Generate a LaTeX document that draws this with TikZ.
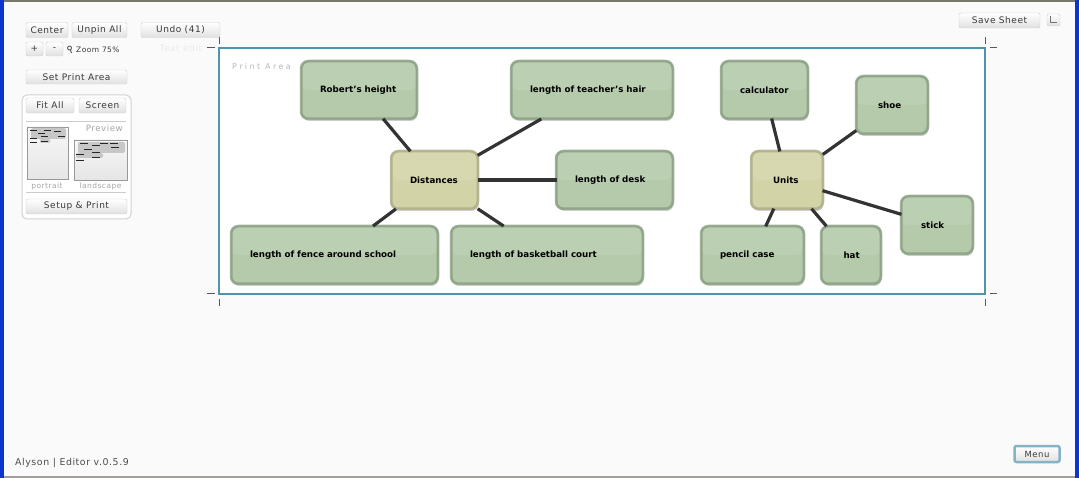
\documentclass[tikz,border=0pt]{standalone}
\usepackage{fontspec}
\usepackage{xcolor}
\usetikzlibrary{shadows}
\setmainfont{DejaVu Sans}
\newfontfamily\uifont[LetterSpace=6]{DejaVu Sans}
\newfontfamily\wideui[LetterSpace=30]{DejaVu Sans}
\definecolor{paper}{HTML}{FAFAFA}
\definecolor{winblue}{HTML}{0A35D0}
\definecolor{wingray}{HTML}{77776C}
\definecolor{printline}{HTML}{4F93AE}
\definecolor{greenfill}{HTML}{B4CAAA}
\definecolor{greenedge}{HTML}{8FA68A}
\definecolor{yellowfill}{HTML}{D3D3A8}
\definecolor{yellowedge}{HTML}{B2B28E}
\definecolor{linkgray}{HTML}{333333}
\definecolor{btntext}{HTML}{3A3A3A}
\tikzset{
	concept/.style={rectangle,rounded corners=7pt,line width=2pt,minimum height=57pt,
		inner xsep=18.5pt,align=left,font=\fontsize{8.7}{10}\selectfont\bfseries,text=black,
		drop shadow={opacity=0.35,shadow xshift=1pt,shadow yshift=-2.5pt},
		path picture={\fill[white,opacity=0.1] (path picture bounding box.north west) rectangle (path picture bounding box.east);}},
	leaf/.style={concept,draw=greenedge,fill=greenfill,
		preaction={draw=greenedge,draw opacity=0.8,line width=3.5pt}},
	hub/.style={concept,draw=yellowedge,fill=yellowfill,
		preaction={draw=yellowedge,draw opacity=0.8,line width=3.5pt}},
	link/.style={draw=linkgray,line width=3.2pt,shorten <=-1pt,shorten >=-1pt},
	button/.style={rectangle,rounded corners=2pt,draw=black!20,top color=white,bottom color=black!12,
		inner sep=0pt,font=\fontsize{9}{11}\selectfont\uifont,text=btntext},
	caption/.style={inner sep=0pt,font=\fontsize{7.5}{9}\selectfont\uifont,text=black!35},
	crop/.style={draw=black!65,line width=1pt},
	thumb/.style={rectangle,draw=black!40,line width=0.8pt,top color=black!3,bottom color=black!10,inner sep=0pt}
}
\begin{document}
\begin{tikzpicture}[x=1pt,y=-1pt]
	\useasboundingbox (0,0) rectangle (1079,478);
	% window
	\fill[paper] (0,0) rectangle (1079,478);
	\fill[wingray] (0,0) rectangle (1079,2);
	\fill[wingray!70] (0,476) rectangle (1079,478);
	\fill[winblue] (0,0) rectangle (4,478);
	\fill[winblue] (1075,0) rectangle (1079,478);
	% print area
	\node[rectangle,draw=printline,line width=1.5pt,fill=white,minimum width=766pt,minimum height=246pt,inner sep=0pt] (printarea) at (602,171) {};
	\node[inner sep=0pt,font=\fontsize{8}{10}\selectfont\wideui,text=black!28,anchor=west] (printlabel) at (232,67) {Print Area};
	\foreach \x/\a/\b in {219/207/215,985/990/997} {
		\foreach \y/\c/\d in {48/37/44,294/299/306} {
			\draw[crop] (\a,\y) -- (\b,\y);
			\draw[crop] (\x,\c) -- (\x,\d);
		}
	}
	% concepts
	\node[leaf,text width=78pt] (robert) at (359,90) {Robert's height};
	\node[leaf,text width=124pt] (hair) at (592,90) {length of teacher's hair};
	\node[hub,text width=49pt] (distances) at (434.5,180) {Distances};
	\node[leaf,text width=79pt] (desk) at (614.5,180) {length of desk};
	\node[leaf,text width=169pt] (fence) at (334.5,255) {length of fence around school};
	\node[leaf,text width=154pt] (court) at (547,255) {length of basketball court};
	\node[leaf,text width=49pt] (calculator) at (764.5,90) {calculator};
	\node[leaf,text width=28pt,inner xsep=21.5pt] (shoe) at (892,105) {shoe};
	\node[hub,text width=28pt,inner xsep=21.5pt] (units) at (787,180) {Units};
	\node[leaf,text width=32pt,inner xsep=19.5pt] (stick) at (937,225) {stick};
	\node[leaf,text width=65pt] (pencil) at (752.5,255) {pencil case};
	\node[leaf,text width=15pt,inner xsep=22pt] (hat) at (851,255) {hat};
	% links
	\draw[link] (distances) -- (robert);
	\draw[link] (distances) -- (hair);
	\draw[link] (distances) -- (desk);
	\draw[link] (distances) -- (fence);
	\draw[link] (distances) -- (court);
	\draw[link] (units) -- (calculator);
	\draw[link] (units) -- (shoe);
	\draw[link] (units) -- (stick);
	\draw[link] (units) -- (pencil);
	\draw[link] (units) -- (hat);
	% tool panel
	\node[rectangle,rounded corners=5pt,draw=black!18,line width=1pt,fill=white,minimum width=109pt,minimum height=124pt,inner sep=0pt] (panel) at (76.5,157) {};
	\node[button,minimum width=42pt,minimum height=15pt] (center) at (47,30) {Center};
	\node[button,minimum width=55pt,minimum height=15pt] (unpin) at (99.5,30) {Unpin All};
	\node[button,minimum width=79pt,minimum height=15pt] (undo) at (180.5,30) {Undo (41)};
	\node[button,minimum width=17pt,minimum height=14pt] (plus) at (34.5,49) {+};
	\node[button,minimum width=17pt,minimum height=14pt] (minus) at (54.5,49) {-};
	\draw[black!70,line width=0.8pt] (69.5,48) circle (2pt) (70.5,50) -- (71.5,53);
	\node[inner sep=0pt,anchor=west,font=\fontsize{7.5}{10}\selectfont\uifont,text=btntext] (zoom) at (76,49.5) {Zoom 75\%};
	\node[inner sep=0pt,font=\fontsize{9}{11}\selectfont\uifont,text=black!8] (textedit) at (181,48) {Text edit};
	\node[button,minimum width=101pt,minimum height=14pt] (setarea) at (76.5,77) {Set Print Area};
	\node[button,minimum width=48pt,minimum height=15pt] (fitall) at (50,105.5) {Fit All};
	\node[button,minimum width=47pt,minimum height=15pt] (screen) at (102.5,105.5) {Screen};
	\draw[black!20] (26,121) -- (126,121);
	\node[caption,anchor=east,font=\fontsize{8.7}{10}\selectfont\uifont] (preview) at (123,128) {Preview};
	\node[thumb,minimum width=41pt,minimum height=52pt] (portrait) at (47.5,153) {};
	\node[thumb,minimum width=53pt,minimum height=40pt] (landscape) at (100.5,160) {};
	\fill[black!22,rounded corners=2pt] (31,128) rectangle (66,139);
	\fill[black!22,rounded corners=1pt] (40,139) rectangle (50,143);
	\foreach \x/\y in {30/130,38/133,44/130,54/131,30/138,41/136,41/141,58/136,30/142} {
		\fill[black!85] (\x,\y) rectangle ++(7,1);
	}
	\fill[black!22,rounded corners=2pt] (78,142) rectangle (125,153);
	\fill[black!22,rounded corners=2pt] (76,153) rectangle (103,158);
	\foreach \x/\y in {80/143,92/145,100/143,110/143,76/154,84/149,92/152,111/147,76/160,92/157} {
		\fill[black!85] (\x,\y) rectangle ++(8,1);
	}
	\node[caption] (portraitlabel) at (47,186) {portrait};
	\node[caption] (landscapelabel) at (100.5,186) {landscape};
	\draw[black!20] (26,192) -- (126,192);
	\node[button,minimum width=101pt,minimum height=15pt] (setup) at (76.5,206.5) {Setup \& Print};
	% right corner and footer
	\node[button,minimum width=81pt,minimum height=15pt] (save) at (999.5,20.5) {Save Sheet};
	\node[button,minimum width=13pt,minimum height=12pt] (pin) at (1053.5,20) {};
	\draw[black!55,line width=1pt] (1050,16) -- (1050,23) -- (1057,23);
	\node[button,draw=printline!70,line width=2.5pt,minimum width=45pt,minimum height=16pt,font=\fontsize{8.5}{10}\selectfont\uifont] (menu) at (1037,454) {Menu};
	\node[inner sep=0pt,anchor=west,font=\fontsize{9.4}{11}\selectfont\uifont,text=black!70] (footer) at (15,463) {Alyson | Editor v.0.5.9};
\end{tikzpicture}
\end{document}
